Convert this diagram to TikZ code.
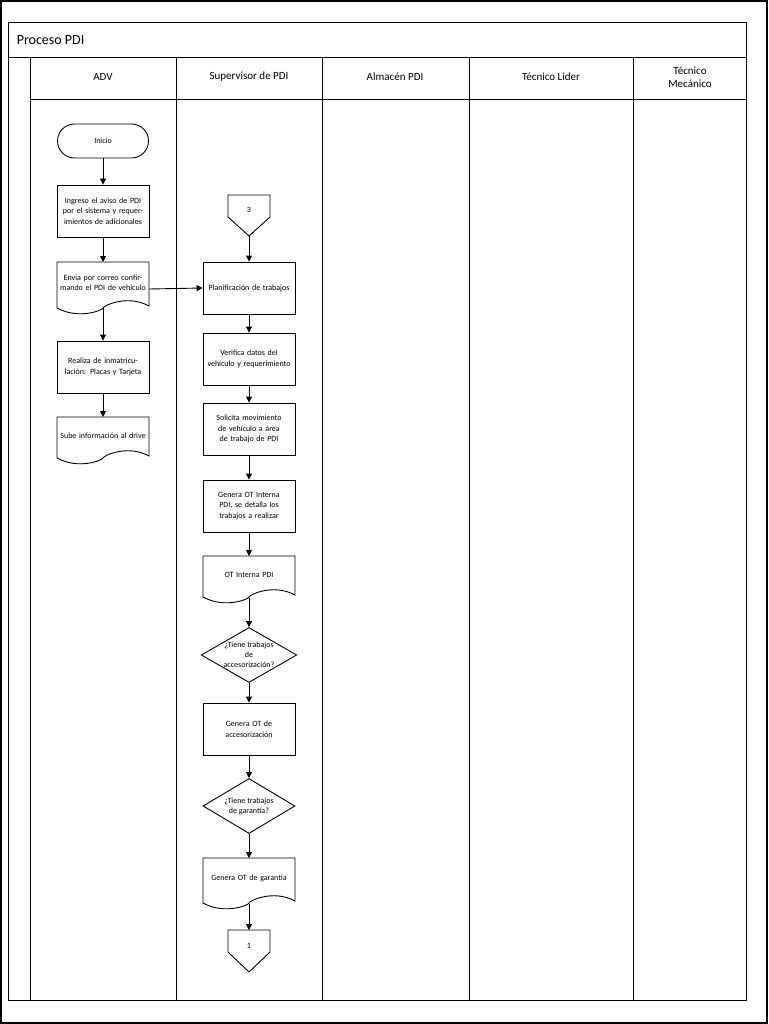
\documentclass[tikz,border=0pt]{standalone}
\usepackage{fontspec}
\setmainfont{Carlito}
\usetikzlibrary{arrows.meta,shapes.geometric}
\begin{document}
\begin{tikzpicture}[x=1pt,y=-1pt,line width=0.9pt,
  box/.style={draw,rectangle,minimum width=92,minimum height=52,text width=86,align=center,font=\fontsize{8}{10.5}\selectfont,inner sep=1pt},
  doc/.style={rectangle,minimum width=92,text width=86,align=center,font=\fontsize{8}{10.5}\selectfont,inner sep=1pt},
  dia/.style={draw,diamond,aspect=1.75,minimum width=92,minimum height=55,inner sep=0pt,font=\fontsize{8}{10}\selectfont,align=center},
  term/.style={draw,rectangle,rounded corners=17,minimum width=91,minimum height=34,font=\fontsize{8}{10}\selectfont},
  off/.style={minimum width=42,minimum height=42,font=\fontsize{8}{10}\selectfont,inner sep=0pt},
  arr/.style={-{Triangle[length=6pt,width=6pt]}},
  hd/.style={font=\fontsize{11}{13}\selectfont,align=center}]
\useasboundingbox (0,0) rectangle (768,1024);
\draw[line width=1.2pt] (1,1) rectangle (767,1023);
% frame
\draw (8,22) rectangle (746,1000);
\draw (8,57) -- (746,57);
\draw (30,99) -- (746,99);
\foreach \x in {30,176,322,469,633} \draw (\x,57) -- (\x,1000);
\node[anchor=west,font=\fontsize{14}{16}\selectfont] (title) at (13,40) {Proceso PDI};
\node[hd] (h1) at (103,77) {ADV};
\node[hd] (h2) at (249,77) {Supervisor de PDI};
\node[hd] (h3) at (395,77) {Almacén PDI};
\node[hd] (h4) at (551,77) {Técnico Lider};
\node[hd] (h5) at (690,77) {Técnico\\Mecánico};
% document outline helper
\newcommand\docline[3]{% x left, y top, y bottom-left
  \draw (#1,#2) -- (#1+92,#2) -- (#1+92,#3-2)
   .. controls (#1+70,#3-14) and (#1+46,#3-2) .. (#1+46,#3)
   .. controls (#1+46,#3+2) and (#1+22,#3+12) .. (#1,#3) -- cycle;}
% ADV lane
\node[term] (inicio) at (103,141) {Inicio};
\node[box] (ingreso) at (103,211) {Ingreso el aviso de PDI por el sistema y requerimientos de adicionales};
\docline{57}{262}{308}
\node[doc] (envia) at (103,283) {Envia por correo confirmando el PDI de vehiculo};
\node[box] (realiza) at (103,367) {Realiza de inmatriculación: Placas y Tarjeta};
\docline{57}{417}{458}
\node[doc] (sube) at (103,436) {Sube información al drive};
% Supervisor lane
\draw (228,195) -- (270,195) -- (270,217) -- (249,236) -- (228,217) -- cycle;
\node[off] (c3) at (249,215) {};
\node[font=\fontsize{8}{10}\selectfont] (t3) at (249,210) {3};
\node[box] (plan) at (249,288) {Planificación de trabajos};
\node[box] (verif) at (249,359) {Verifica datos del vehículo y requerimiento};
\node[box] (solic) at (249,429) {Solicita movimiento de vehículo a área de trabajo de PDI};
\node[box] (genint) at (249,506) {Genera OT Interna PDI, se detalla los trabajos a realizar};
\docline{203}{556}{597}
\node[doc] (otint) at (249,575) {OT Interna PDI};
\node[dia] (d1) at (249,655) {¿Tiene trabajos\\de\\accesorización?};
\node[box] (genacc) at (249,729) {Genera OT de accesorización};
\docline{203}{858}{903}
\node[dia] (d2) at (249,806) {¿Tiene trabajos\\de garantía?};
\node[doc] (gengar) at (249,878) {Genera OT de garantía};
\draw (228,930) -- (270,930) -- (270,952) -- (249,972) -- (228,952) -- cycle;
\node[off] (c1) at (249,951) {};
\node[font=\fontsize{8}{10}\selectfont] (t1) at (249,946) {1};
% connectors
\draw[arr] (inicio) -- (ingreso);
\draw[arr] (ingreso) -- (103,262);
\draw[arr] (103,308) -- (realiza);
\draw[arr] (realiza) -- (103,417);
\draw[arr] (149,289) -- (plan.west);
\draw[arr] (249,236) -- (plan);
\draw[arr] (plan) -- (verif);
\draw[arr] (verif) -- (solic);
\draw[arr] (solic) -- (genint);
\draw[arr] (genint) -- (249,556);
\draw[arr] (249,598) -- (d1);
\draw[arr] (d1) -- (genacc);
\draw[arr] (genacc) -- (d2);
\draw[arr] (d2) -- (249,858);
\draw[arr] (249,904) -- (249,930);
\end{tikzpicture}
\end{document}
